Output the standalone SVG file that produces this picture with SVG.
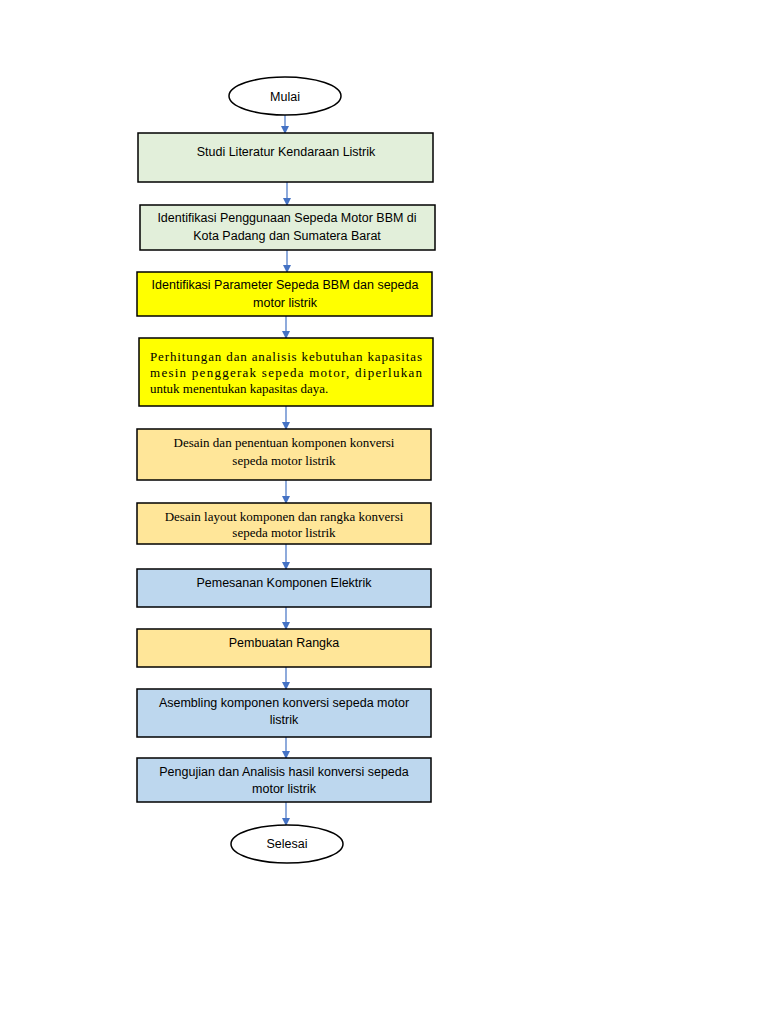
<svg xmlns="http://www.w3.org/2000/svg" width="768" height="1024" viewBox="0 0 768 1024">
<style>
.b{stroke:#000;stroke-width:1.5}
.t{font-family:"Liberation Sans",Arial,sans-serif;font-size:12.5px;fill:#000;text-anchor:middle}
.s{font-family:"Liberation Serif","Times New Roman",serif;font-size:13px;fill:#000;text-anchor:middle}
.c{stroke:#4472c4;stroke-width:1.2;fill:none;marker-end:url(#a)}
</style>
<defs><marker id="a" markerWidth="8" markerHeight="8" refX="7" refY="4" orient="auto" markerUnits="userSpaceOnUse"><path d="M0,0L8,4L0,8z" fill="#4472c4"/></marker></defs>
<rect width="768" height="1024" fill="#fff"/>
<g id="connectors">
<line class="c" x1="285" y1="115" x2="285" y2="133"/>
<line class="c" x1="287" y1="182" x2="287" y2="205"/>
<line class="c" x1="287" y1="250" x2="287" y2="272"/>
<line class="c" x1="286" y1="316" x2="286" y2="338"/>
<line class="c" x1="286" y1="406" x2="286" y2="429"/>
<line class="c" x1="286" y1="480" x2="286" y2="503"/>
<line class="c" x1="286" y1="544" x2="286" y2="569"/>
<line class="c" x1="286" y1="607" x2="286" y2="629"/>
<line class="c" x1="286" y1="667" x2="286" y2="689"/>
<line class="c" x1="286" y1="737" x2="286" y2="758"/>
<line class="c" x1="286" y1="802" x2="286" y2="825"/>
</g>
<g id="mulai"><ellipse class="b" cx="285" cy="96" rx="56" ry="19" fill="#fff"/><text class="t" x="285" y="101">Mulai</text></g>
<g id="n1"><rect class="b" x="138" y="133" width="295" height="49" fill="#e2efda"/><text class="t" x="286" y="156">Studi Literatur Kendaraan Listrik</text></g>
<g id="n2"><rect class="b" x="140" y="205" width="295" height="45" fill="#e2efda"/><text class="t" x="287" y="222">Identifikasi Penggunaan Sepeda Motor BBM di</text><text class="t" x="287" y="240">Kota Padang dan Sumatera Barat</text></g>
<g id="n3"><rect class="b" x="137" y="272" width="295" height="44" fill="#ffff00"/><text class="t" x="285" y="289">Identifikasi Parameter Sepeda BBM dan sepeda</text><text class="t" x="285" y="307">motor listrik</text></g>
<g id="n4"><rect class="b" x="139" y="338" width="294" height="68" fill="#ffff00"/>
<text class="s" x="286" y="361" textLength="272" lengthAdjust="spacing">Perhitungan dan analisis kebutuhan kapasitas</text>
<text class="s" x="286" y="377" textLength="272" lengthAdjust="spacing">mesin penggerak sepeda motor, diperlukan</text>
<text class="s" x="150" y="393" style="text-anchor:start">untuk menentukan kapasitas daya.</text></g>
<g id="n5"><rect class="b" x="137" y="429" width="294" height="51" fill="#ffe699"/><text class="s" x="284" y="447">Desain dan penentuan komponen konversi</text><text class="s" x="284" y="465">sepeda motor listrik</text></g>
<g id="n6"><rect class="b" x="137" y="503" width="294" height="41" fill="#ffe699"/><text class="s" x="284" y="521">Desain layout komponen dan rangka konversi</text><text class="s" x="284" y="537">sepeda motor listrik</text></g>
<g id="n7"><rect class="b" x="137" y="569" width="294" height="38" fill="#bdd7ee"/><text class="t" x="284" y="587">Pemesanan Komponen Elektrik</text></g>
<g id="n8"><rect class="b" x="137" y="629" width="294" height="38" fill="#ffe699"/><text class="t" x="284" y="647">Pembuatan Rangka</text></g>
<g id="n9"><rect class="b" x="137" y="689" width="294" height="48" fill="#bdd7ee"/><text class="t" x="284" y="707">Asembling komponen konversi sepeda motor</text><text class="t" x="284" y="724">listrik</text></g>
<g id="n10"><rect class="b" x="137" y="758" width="294" height="44" fill="#bdd7ee"/><text class="t" x="284" y="776">Pengujian dan Analisis hasil konversi sepeda</text><text class="t" x="284" y="793">motor listrik</text></g>
<g id="selesai"><ellipse class="b" cx="287" cy="844" rx="56" ry="19" fill="#fff"/><text class="t" x="287" y="848">Selesai</text></g>
</svg>
